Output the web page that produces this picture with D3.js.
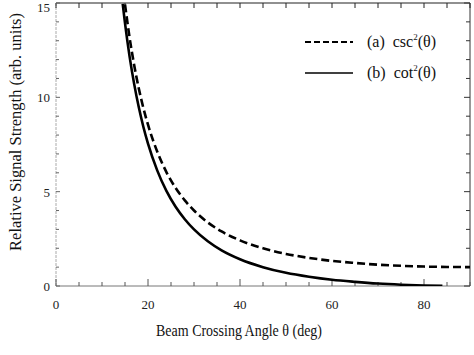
<!DOCTYPE html>
<html><head><meta charset="utf-8">
<script src="https://cdn.jsdelivr.net/npm/d3@7"></script>
<style>body{margin:0;background:#fff}svg{display:block}svg text{font-family:"Liberation Serif","Times New Roman",serif}</style>
</head><body>
<svg id="c" width="474" height="355"></svg>
<script>
// Data
const cscAngles = [15,16,17,18,19,20,22,24,26,28,30,33,36,40,45,50,55,60,65,70,75,80,85,90];
const cscValues = [14.93,13.16,11.70,10.47,9.43,8.55,7.13,6.04,5.20,4.54,4.00,3.37,2.89,2.42,2.00,1.70,1.49,1.33,1.22,1.13,1.07,1.03,1.01,1.00];
const cotAngles = [14.5,15,16,17,18,19,20,22,24,26,28,30,33,36,40,45,50,55,60,65,70,75,80,84];
const cotValues = [14.95,13.93,12.16,10.70,9.47,8.43,7.55,6.13,5.04,4.20,3.54,3.00,2.37,1.89,1.42,1.00,0.70,0.49,0.33,0.22,0.13,0.07,0.03,0.01];
const xTickLabels = [0,20,40,60,80];
const yTickLabels = [0,5,10,15];
const legendLabels = ["(a)", "(b)"];

const svg = d3.select("#c");
const L = 56, R = 470, T = 3, B = 286;
const x = d3.scaleLinear().domain([0,90]).range([L,R]);
const y = d3.scaleLinear().domain([0,15]).range([B,T]);

svg.append("clipPath").attr("id","clip").append("rect")
  .attr("x",L).attr("y",T).attr("width",R-L).attr("height",B-T);

// frame
svg.append("line").attr("x1",L).attr("x2",R).attr("y1",T).attr("y2",T).attr("stroke","#222").attr("stroke-width",1.2);
svg.append("line").attr("x1",R).attr("x2",R).attr("y1",T).attr("y2",B).attr("stroke","#333").attr("stroke-width",1);
svg.append("line").attr("x1",L).attr("x2",L).attr("y1",T).attr("y2",B).attr("stroke","#aaa").attr("stroke-width",1).attr("stroke-dasharray","3,1");
svg.append("line").attr("x1",L).attr("x2",R).attr("y1",B).attr("y2",B).attr("stroke","#777").attr("stroke-width",1);

const xMinor = d3.range(0,91,5);
const yMinor = d3.range(0,16,1);
svg.append("g").selectAll("line").data(xMinor).join("line")
  .attr("x1",d=>x(d)).attr("x2",d=>x(d)).attr("y1",B).attr("y2",d=>B-(d%20===0?7:4))
  .attr("stroke","#555");
svg.append("g").selectAll("line").data(xMinor).join("line")
  .attr("x1",d=>x(d)).attr("x2",d=>x(d)).attr("y1",T).attr("y2",T+5)
  .attr("stroke","#222");
svg.append("g").selectAll("line").data(yMinor).join("line")
  .attr("x1",L).attr("x2",d=>L+(d%5===0?4:3)).attr("y1",d=>y(d)).attr("y2",d=>y(d))
  .attr("stroke","#666");
svg.append("g").selectAll("line").data(yMinor).join("line")
  .attr("x1",R).attr("x2",d=>R-(d%5===0?6:4)).attr("y1",d=>y(d)).attr("y2",d=>y(d))
  .attr("stroke","#333");

svg.append("g").selectAll("text").data(xTickLabels).join("text")
  .attr("x",d=>x(d)).attr("y",309).attr("text-anchor","middle")
  .attr("font-size",13).attr("fill","#222").text(d=>d);
svg.append("g").selectAll("text").data(yTickLabels).join("text")
  .attr("x",50).attr("y",d=>Math.max(y(d)+5,12)).attr("text-anchor","end")
  .attr("font-size",13).attr("fill","#222").text(d=>d);

svg.append("text").attr("x",156).attr("y",336)
  .attr("font-size",16.5).attr("fill","#111")
  .attr("textLength",166).attr("lengthAdjust","spacingAndGlyphs")
  .text("Beam Crossing Angle θ (deg)");
svg.append("text").attr("transform","translate(21,132) rotate(-90)").attr("text-anchor","middle")
  .attr("font-size",16.5).attr("fill","#111")
  .text("Relative Signal Strength (arb. units)");

const line = d3.line().x(d=>x(d[0])).y(d=>y(d[1])).curve(d3.curveMonotoneX);
const g = svg.append("g").attr("clip-path","url(#clip)");
g.append("path").datum(cscAngles.map((a,i)=>[a,cscValues[i]]))
  .attr("d",line).attr("fill","none").attr("stroke","#000").attr("stroke-width",2.6)
  .attr("stroke-dasharray","8,4");
g.append("path").datum(cotAngles.map((a,i)=>[a,cotValues[i]]))
  .attr("d",line).attr("fill","none").attr("stroke","#000").attr("stroke-width",2.6);

const lg = svg.append("g").attr("font-size",16).attr("fill","#111");
lg.append("line").attr("x1",305).attr("x2",353).attr("y1",42).attr("y2",42)
  .attr("stroke","#000").attr("stroke-width",2).attr("stroke-dasharray","6,3");
lg.append("line").attr("x1",305).attr("x2",353).attr("y1",73).attr("y2",73)
  .attr("stroke","#000").attr("stroke-width",1.6);
const t1 = lg.append("text").attr("x",367).attr("y",47);
t1.append("tspan").text(legendLabels[0]+"\u00a0\u00a0csc");
t1.append("tspan").attr("font-size",9).attr("dy",-7).text("2");
t1.append("tspan").attr("dy",7).text("(θ)");
const t2 = lg.append("text").attr("x",367).attr("y",78);
t2.append("tspan").text(legendLabels[1]+"\u00a0\u00a0cot");
t2.append("tspan").attr("font-size",9).attr("dy",-7).text("2");
t2.append("tspan").attr("dy",7).text("(θ)");
</script>
</body></html>
